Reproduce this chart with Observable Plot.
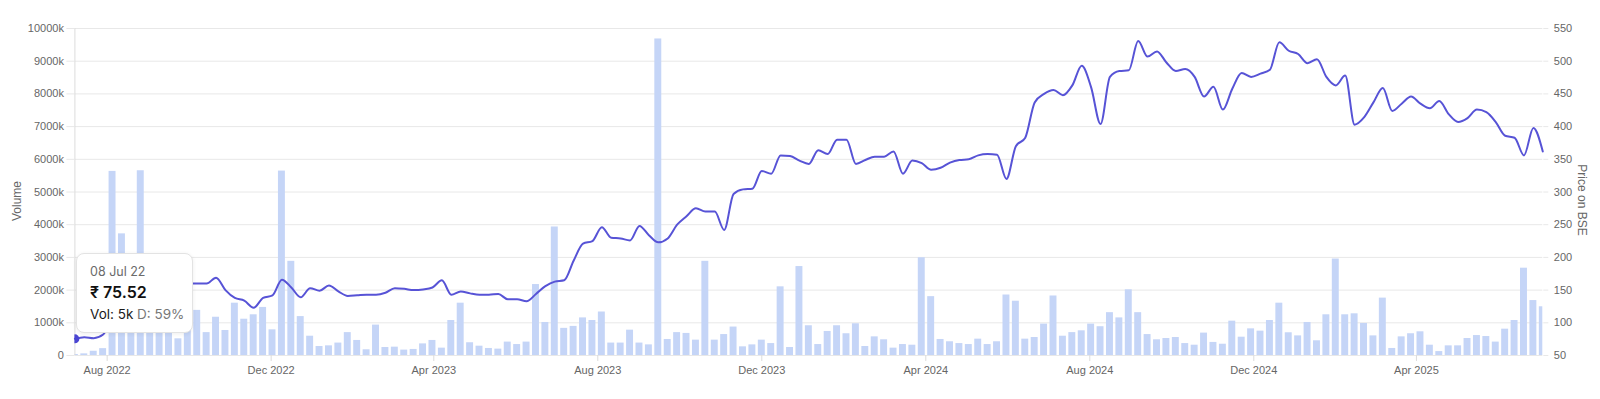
<!DOCTYPE html>
<html><head><meta charset="utf-8">
<script src="https://cdn.jsdelivr.net/npm/d3@7"></script>
<script src="https://cdn.jsdelivr.net/npm/@observablehq/plot@0.6"></script>
<style>
html,body{margin:0;padding:0;background:#fff;}
#wrap{position:relative;width:1600px;height:399px;overflow:hidden;}
.tip{position:absolute;left:76px;top:253px;width:117px;height:80px;background:#fff;border:1px solid #e3e3e3;border-radius:8px;box-shadow:0 1px 4px rgba(0,0,0,0.07);font-family:Inter,"Liberation Sans",sans-serif;box-sizing:border-box;}
.tip div{position:absolute;left:13px;white-space:nowrap;}
.tip .d{top:10px;font-size:12.5px;line-height:16px;color:#6b6b6b;}
.tip .p{top:28px;font-size:16px;line-height:20px;font-weight:600;color:#111;}
.tip .v{top:51px;font-size:13.5px;line-height:18px;color:#1a1a1a;}
.tip .v span{color:#777;}
.ttl{position:absolute;font-family:'Liberation Sans',Arial,sans-serif;font-size:12px;line-height:14px;color:#666;white-space:nowrap;}
</style></head>
<body>
<div id="wrap"><div id="chart"></div>
<div class="ttl" style="left:17px;top:200.5px;transform:translate(-50%,-50%) rotate(-90deg)">Volume</div>
<div class="ttl" style="left:1582px;top:200px;transform:translate(-50%,-50%) rotate(90deg)">Price on BSE</div>
<div class="tip"><div class="d">08 Jul 22</div><div class="p">₹ 75.52</div><div class="v">Vol: 5k <span>D: 59%</span></div></div>
</div>
<script>
// weekly volume (thousands), starting 08 Jul 2022
const volumes = [30,50,130,210,5630,3720,2200,5650,1700,1300,
900,510,1100,1380,700,1170,765,1600,1110,1245,
1470,785,5640,2880,1190,590,275,295,380,700,
460,175,930,245,255,165,185,355,460,225,
1070,1600,390,285,215,195,410,335,410,2170,
1010,3930,830,890,1150,1070,1330,380,380,775,
380,325,9680,490,700,675,470,2880,470,640,
870,265,325,470,365,2100,245,2720,910,335,
735,910,665,970,275,570,480,225,335,315,
2990,1800,490,420,365,335,500,335,420,1850,
1660,500,550,960,1820,590,700,755,960,880,
1310,1150,2010,1310,640,480,520,550,365,315,
685,400,345,1050,560,815,745,1070,1600,695,
600,1010,450,1245,2950,1245,1275,980,600,1755,
215,570,665,725,315,120,295,295,520,610,
580,410,805,1070,2670,1680,1490];
// weekly price on BSE (₹)
const prices = [75.52,78,76.5,82,110,135,148,153,156,158,
157,159,160,160,160,169,150,138,134,123,
138,142,166,154,139,153,149,157,148,141,
142,143,143,146,153,152,150,151,154,165,
143,148,145,143,143,144,136,136,133,144,
156,163,165,195,221,225,246,230,229,226,
248,234,223,229,250,263,275,270,270,242,
297,304,305,332,328,356,355,348,343,364,
358,380,380,343,349,354,354,362,328,348,
344,334,337,345,349,350,356,358,357,320,
370,383,437,450,456,448,463,493,460,404,
476,485,486,531,507,515,498,485,488,476,
446,461,426,458,482,476,481,487,529,516,
511,497,503,476,463,478,403,414,437,459,
424,435,446,435,428,439,419,407,413,426,
422,407,386,383,356,398,362];
const startDay = "2022-07-08";
const volumeTicks = [0,1000,2000,3000,4000,5000,6000,7000,8000,9000,10000];
const priceTicks = [50,100,150,200,250,300,350,400,450,500,550];
const monthTicks = ["2022-08-01","2022-12-01","2023-04-01","2023-08-01","2023-12-01","2024-04-01","2024-08-01","2024-12-01","2025-04-01"];

const start = new Date(startDay + "T00:00:00Z");
const dates = volumes.map((_, i) => d3.utcDay.offset(start, 7 * i));
const data = dates.map((date, i) => ({date, vol: volumes[i], price: prices[i]}));
const pMin = priceTicks[0], pMax = priceTicks[priceTicks.length - 1];
const vMax = volumeTicks[volumeTicks.length - 1];
const toV = p => (p - pMin) * vMax / (pMax - pMin);
const fromV = v => Math.round(pMin + v * (pMax - pMin) / vMax);

const grid = "#e8e8e8", txt = "#666", barColor = "#c5d5f7", lineColor = "#5753d6";

const chart = Plot.plot({
  width: 1600, height: 399,
  marginLeft: 74.4, marginRight: 57.7, marginTop: 28, marginBottom: 44,
  style: {fontFamily: "'Liberation Sans', Arial, sans-serif", fontSize: "11px", background: "#fff"},
  x: {type: "utc", domain: [dates[0], dates[dates.length - 1]]},
  y: {domain: [0, vMax]},
  marks: [
    Plot.gridY(volumeTicks, {stroke: grid, strokeOpacity: 1}),
    Plot.rectY(data, {x1: d => d3.utcHour.offset(d.date, -62), x2: d => d3.utcHour.offset(d.date, 62), y: "vol", fill: barColor, clip: true}),
    Plot.ruleX([dates[0]], {stroke: "#dcdcdc"}),
    Plot.line(data, {x: "date", y: d => toV(d.price), curve: "monotone-x", stroke: lineColor, strokeWidth: 2}),
    Plot.dot(data.slice(0, 1), {x: "date", y: d => toV(d.price), r: 4.5, fill: "#4a45d2", stroke: "none", clip: true}),
    Plot.axisY(volumeTicks, {anchor: "left", tickFormat: d => d === 0 ? "0" : d + "k", tickSize: 8, tickPadding: 3, stroke: grid, strokeOpacity: 1, fill: txt, label: null}),
    Plot.axisY(priceTicks.map(toV), {anchor: "right", tickFormat: fromV, tickSize: 5, tickPadding: 6, stroke: grid, strokeOpacity: 1, fill: txt, label: null}),
    Plot.axisX(monthTicks.map(s => new Date(s + "T00:00:00Z")), {tickFormat: d3.utcFormat("%b %Y"), tickSize: 6, tickPadding: 5, stroke: "#dcdcdc", strokeOpacity: 1, fill: txt, label: null})
  ]
});
document.getElementById("chart").appendChild(chart);
</script>
</body></html>
